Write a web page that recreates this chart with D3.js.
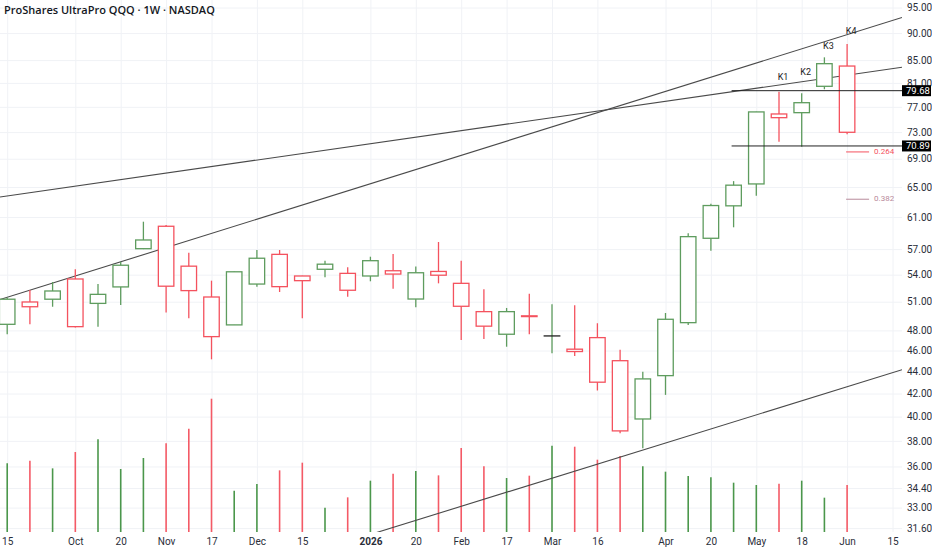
<!DOCTYPE html>
<html>
<head>
<meta charset="utf-8">
<script src="https://cdn.jsdelivr.net/npm/d3@7"></script>
<style>
  html, body { margin: 0; padding: 0; background: #fff; }
  svg text { font-family: Roboto, "Noto Sans", sans-serif; }
</style>
</head>
<body>
<div id="chart"></div>
<script>
// weekly candles, index 0 = week of Sep 15
const opens  = [48.62, 50.97, 51.27, 53.51, 50.82, 52.62, 57.05, 59.82, 54.98, 51.51,
                48.56, 52.94, 56.37, 53.85, 54.62, 54.15, 53.85, 54.45, 51.29, 54.37,
                53.02, 49.94, 47.61, 49.50, 47.44, 46.13, 47.27, 45.02, 39.80, 43.62,
                48.79, 58.32, 62.46, 65.42, 75.85, 76.06, 80.42, 83.94];
const highs  = [51.45, 52.28, 53.17, 54.62, 52.94, 55.51, 60.40, 59.99, 56.56, 53.32,
                54.35, 56.89, 56.89, 53.88, 55.62, 54.86, 56.09, 56.41, 54.93, 57.86,
                55.62, 52.36, 50.33, 51.86, 50.73, 50.62, 48.73, 46.08, 43.99, 49.80,
                58.94, 62.72, 65.81, 76.20, 79.51, 79.24, 85.50, 87.94];
const lows   = [47.60, 48.62, 50.46, 48.30, 48.38, 50.64, 57.00, 49.84, 49.25, 45.15,
                48.54, 52.65, 52.06, 49.25, 53.70, 51.55, 53.25, 52.43, 50.40, 53.02,
                47.03, 47.13, 46.37, 47.61, 45.74, 45.48, 42.27, 38.62, 37.41, 41.88,
                48.56, 56.80, 59.69, 63.79, 71.53, 70.78, 79.92, 72.66];
const closes = [51.27, 50.46, 52.17, 48.38, 51.80, 55.09, 58.11, 52.70, 52.21, 47.37,
                54.33, 55.91, 52.65, 53.32, 55.21, 52.25, 55.62, 54.07, 54.22, 53.94,
                50.51, 48.43, 49.94, 49.42, 47.44, 45.90, 43.02, 38.81, 43.32, 49.14,
                58.52, 62.50, 65.25, 76.18, 75.26, 77.68, 84.36, 72.97];
const volumes = [206, 214, 191, 240, 278, 189, 222, 266, 310, 400,
                 124, 144, 185, 208, 73, 104, 154, 175, 183, 170,
                 252, 197, 162, 169, 259, 256, 217, 228, 197, 181,
                 168, 164, 148, 141, 145, 154, 103, 141];

const xTickIdx    = [0, 3, 5, 7, 9, 11, 13, 16, 18, 20, 22, 24, 26, 29, 31, 33, 35, 37, 39];
const xTickLabels = ["15", "Oct", "20", "Nov", "17", "Dec", "15", "2026", "20", "Feb",
                     "17", "Mar", "16", "Apr", "20", "May", "18", "Jun", "15"];
const yTicks = [95, 90, 85, 81, 77, 73, 69, 65, 61, 57, 54, 51, 48, 46, 44, 42, 40, 38, 36, 34.4, 33, 31.6];

// drawings: trend lines (index, price anchors), levels, fib marks, K labels
const trendLines = [
  { i1: 0, p1: 51.48, i2: 37, p2: 89.70 },
  { i1: 0, p1: 63.78, i2: 37, p2: 82.33 },
  { i1: 20, p1: 33.09, i2: 37, p2: 42.61 }
];
const levels = [ { price: 79.68, from: 32 }, { price: 70.89, from: 32 } ];
const fibMarks = [ { price: 70.00, label: "0.264" }, { price: 63.34, label: "0.382" } ];
const kLabels = [
  { i: 34, price: 81.96, text: "K1" },
  { i: 35, price: 82.84, text: "K2" },
  { i: 36, price: 87.39, text: "K3" },
  { i: 37, price: 90.21, text: "K4" }
];

const width = 932, height = 550;
const plotRight = 902, plotBottom = 532;
const upColor = "#5e9c5e", downColor = "#f4525e";
const volUp = "#4b974b", volDown = "#f45a66";

const svg = d3.select("#chart").append("svg")
  .attr("width", width).attr("height", height);

svg.append("defs").append("clipPath").attr("id", "plot")
  .append("rect").attr("x", 0).attr("y", 0).attr("width", plotRight).attr("height", plotBottom);

const x = d3.scaleLinear().domain([0, 39]).range([7.2, 892.5]);
const y = d3.scaleLog().domain([31.6, 95]).range([528.1, 7.5]);
const yVol = d3.scaleLinear().domain([0, 400]).range([plotBottom, 398.7]);

// grid
svg.append("g")
  .call(d3.axisBottom(x).tickValues(xTickIdx).tickSize(plotBottom).tickFormat(""))
  .call(g => g.select(".domain").remove())
  .call(g => g.selectAll("line").attr("stroke", "#f0f2f6"));
svg.append("g")
  .call(d3.axisRight(y).tickValues(yTicks).tickSize(plotRight).tickFormat(""))
  .call(g => g.select(".domain").remove())
  .call(g => g.selectAll("line").attr("stroke", "#f0f2f6"));

const plot = svg.append("g").attr("clip-path", "url(#plot)");

const candles = d3.range(opens.length).map(i => ({
  i, o: opens[i], h: highs[i], l: lows[i], c: closes[i], v: volumes[i]
}));

// volume
plot.selectAll("line.vol").data(candles).join("line")
  .attr("class", "vol")
  .attr("x1", d => x(d.i)).attr("x2", d => x(d.i))
  .attr("y1", yVol(0)).attr("y2", d => yVol(d.v))
  .attr("stroke", d => d.c >= d.o ? volUp : volDown)
  .attr("stroke-width", 1.6);

// trend lines, extended across the plot
const line = d3.line();
trendLines.forEach(t => {
  const ax = x(t.i1), ay = y(t.p1), bx = x(t.i2), by = y(t.p2);
  const k = (by - ay) / (bx - ax);
  plot.append("path")
    .attr("d", line([[0, ay - k * ax], [plotRight, ay + k * (plotRight - ax)]]))
    .attr("stroke", "#4a4a4a").attr("stroke-width", 1.1).attr("fill", "none");
});

const bw = 15.5;
const wickColor = d => d.c >= d.o ? upColor : downColor;
const bodyColor = d => d.c === d.o ? "#222" : wickColor(d);

plot.selectAll("line.wick").data(candles).join("line")
  .attr("class", "wick")
  .attr("x1", d => x(d.i)).attr("x2", d => x(d.i))
  .attr("y1", d => y(d.h)).attr("y2", d => y(d.l))
  .attr("stroke", wickColor).attr("stroke-width", 1.3);

plot.selectAll("rect.body").data(candles).join("rect")
  .attr("class", "body")
  .attr("x", d => x(d.i) - bw / 2)
  .attr("width", bw)
  .attr("y", d => y(Math.max(d.o, d.c)))
  .attr("height", d => Math.max(0.01, y(Math.min(d.o, d.c)) - y(Math.max(d.o, d.c))))
  .attr("fill", "#fff")
  .attr("stroke", bodyColor).attr("stroke-width", 1.3);

// level lines
plot.selectAll("line.level").data(levels).join("line")
  .attr("class", "level")
  .attr("x1", d => x(d.from) - 2).attr("x2", plotRight)
  .attr("y1", d => y(d.price)).attr("y2", d => y(d.price))
  .attr("stroke", "#222").attr("stroke-width", 1);

// fib marks
const fibColors = ["#f4525e", "#b8899a"];
fibMarks.forEach((f, k) => {
  svg.append("line")
    .attr("x1", x(37) - 1).attr("x2", x(37) + 22)
    .attr("y1", y(f.price)).attr("y2", y(f.price))
    .attr("stroke", fibColors[k]).attr("stroke-width", 1);
  svg.append("text")
    .attr("x", x(37) + 27).attr("y", y(f.price))
    .attr("dominant-baseline", "middle")
    .attr("font-size", 8).attr("fill", fibColors[k])
    .text(f.label);
});

// K labels
svg.selectAll("text.k").data(kLabels).join("text")
  .attr("class", "k")
  .attr("x", d => x(d.i) + 4).attr("y", d => y(d.price))
  .attr("text-anchor", "middle").attr("dominant-baseline", "middle")
  .attr("font-size", 9).attr("fill", "#222")
  .text(d => d.text);

// price axis
svg.append("g")
  .attr("transform", `translate(${plotRight},0)`)
  .call(d3.axisRight(y).tickValues(yTicks).tickSize(0).tickPadding(5).tickFormat(d3.format(".2f")))
  .call(g => g.select(".domain").remove())
  .call(g => g.selectAll("text").attr("font-size", 10).attr("fill", "#2a2e39"));

// level price tags
levels.forEach(l => {
  const g = svg.append("g").attr("transform", `translate(${plotRight},${y(l.price)})`);
  g.append("rect").attr("x", 0).attr("y", -5.5).attr("width", 29).attr("height", 11).attr("fill", "#000");
  g.append("text").attr("x", 4).attr("y", 0.5).attr("dominant-baseline", "middle")
    .attr("font-size", 9.5).attr("fill", "#fff").text(l.price.toFixed(2));
});

// time axis
svg.append("g")
  .attr("transform", `translate(0,${plotBottom})`)
  .call(d3.axisBottom(x).tickValues(xTickIdx).tickSize(0).tickPadding(6)
    .tickFormat((d, i) => xTickLabels[i]))
  .call(g => g.select(".domain").remove())
  .call(g => g.selectAll("text").attr("font-size", 10).attr("fill", "#2a2e39")
    .attr("font-weight", (d, i) => xTickLabels[i] === "2026" ? "bold" : "normal"));

// title
svg.append("text")
  .attr("x", 4).attr("y", 14)
  .attr("font-size", 11).attr("font-weight", 600).attr("fill", "#131722")
  .style("font-family", "'Open Sans', sans-serif")
  .text("ProShares UltraPro QQQ · 1W · NASDAQ");
</script>
</body>
</html>
